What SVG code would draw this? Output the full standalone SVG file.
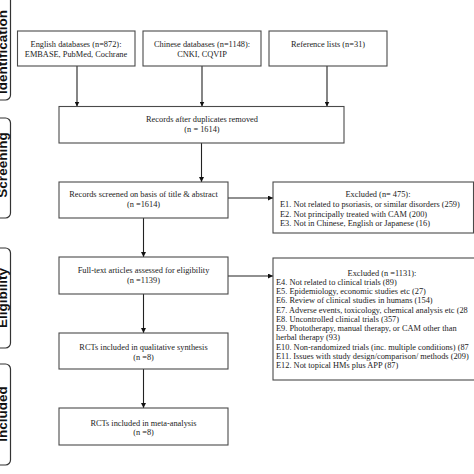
<svg xmlns="http://www.w3.org/2000/svg" width="474" height="474" viewBox="0 0 474 474">
<style>
.box{fill:#fff;stroke:#4a4a4a;stroke-width:1.1}
.phase{fill:#fff;stroke:#333;stroke-width:1.2}
.t{font-family:"Liberation Serif","Times New Roman",serif;font-size:8.35px;fill:#222}
.c{text-anchor:middle}
.ph{font-family:"Liberation Sans",Arial,sans-serif;font-size:13.5px;font-weight:bold;fill:#111;text-anchor:middle}
.ln{stroke:#222;stroke-width:1.1;fill:none}
</style>
<defs>
<marker id="ah" viewBox="0 0 10 10" refX="10" refY="5" markerWidth="5" markerHeight="5" markerUnits="userSpaceOnUse" orient="auto">
<path d="M0,0 L10,5 L0,10 z" fill="#111"/>
</marker>
</defs>
<rect width="474" height="474" fill="#fff"/>

<g id="phase-identification"><rect class="phase" x="-10" y="-6" width="20.5" height="106" rx="5"/><text class="ph" transform="translate(6.5,52) rotate(-90)">Identification</text></g>
<g id="phase-screening"><rect class="phase" x="-10" y="118" width="20.5" height="100" rx="5"/><text class="ph" transform="translate(6.5,165) rotate(-90)">Screening</text></g>
<g id="phase-eligibility"><rect class="phase" x="-10" y="248" width="20.5" height="100" rx="5"/><text class="ph" transform="translate(6.5,298) rotate(-90)">Eligibility</text></g>
<g id="phase-included"><rect class="phase" x="-10" y="364" width="20.5" height="101" rx="5"/><text class="ph" transform="translate(6.5,414) rotate(-90)">Included</text></g>

<g id="connectors">
<line class="ln" x1="77" y1="66" x2="77" y2="106.5" marker-end="url(#ah)"/>
<line class="ln" x1="202" y1="66" x2="202" y2="106.5" marker-end="url(#ah)"/>
<line class="ln" x1="327" y1="66" x2="327" y2="106.5" marker-end="url(#ah)"/>
<line class="ln" x1="201.5" y1="143" x2="201.5" y2="182" marker-end="url(#ah)"/>
<line class="ln" x1="228" y1="198" x2="273" y2="198" marker-end="url(#ah)"/>
<line class="ln" x1="143.5" y1="218" x2="143.5" y2="257" marker-end="url(#ah)"/>
<line class="ln" x1="228" y1="276" x2="273" y2="276" marker-end="url(#ah)"/>
<line class="ln" x1="143.5" y1="294" x2="143.5" y2="333" marker-end="url(#ah)"/>
<line class="ln" x1="143.5" y1="369" x2="143.5" y2="408" marker-end="url(#ah)"/>
</g>

<g id="english"><rect class="box" x="17.5" y="31" width="117.5" height="35"/>
<text class="t c" x="76" y="47">English databases (n=872):</text>
<text class="t c" x="76" y="56.5">EMBASE, PubMed, Cochrane</text></g>

<g id="chinese"><rect class="box" x="143" y="31" width="118" height="35"/>
<text class="t c" x="202" y="47">Chinese databases (n=1148):</text>
<text class="t c" x="202" y="56.5">CNKI, CQVIP</text></g>

<g id="reference"><rect class="box" x="269" y="31" width="118" height="35"/>
<text class="t c" x="328" y="47">Reference lists (n=31)</text></g>

<g id="records"><rect class="box" x="59" y="106.5" width="285" height="36.5"/>
<text class="t c" x="202" y="122">Records after duplicates removed</text>
<text class="t c" x="202" y="132">(n = 1614)</text></g>

<g id="screened"><rect class="box" x="59" y="182" width="169" height="36"/>
<text class="t c" x="143.5" y="197">Records screened on basis of title &amp; abstract</text>
<text class="t c" x="143.5" y="207">(n =1614)</text></g>

<g id="excluded1"><rect class="box" x="273" y="182" width="200.5" height="51"/>
<text class="t c" x="378" y="197">Excluded (n= 475):</text>
<text class="t" x="280" y="207">E1. Not related to psoriasis, or similar disorders (259)</text>
<text class="t" x="280" y="216.5">E2. Not principally treated with CAM (200)</text>
<text class="t" x="280" y="226">E3. Not in Chinese, English or Japanese (16)</text></g>

<g id="fulltext"><rect class="box" x="59" y="257" width="169" height="37"/>
<text class="t c" x="143.5" y="273">Full-text articles assessed for eligibility</text>
<text class="t c" x="143.5" y="283">(n =1139)</text></g>

<g id="excluded2"><rect class="box" x="273" y="258" width="210" height="122"/>
<text class="t c" x="382" y="276">Excluded (n =1131):</text>
<text class="t" x="276" y="284.7">E4. Not related to clinical trials (89)</text>
<text class="t" x="276" y="294">E5. Epidemiology, economic studies etc (27)</text>
<text class="t" x="276" y="303.2">E6. Review of clinical studies in humans (154)</text>
<text class="t" x="276" y="312.5">E7. Adverse events, toxicology, chemical analysis etc (28</text>
<text class="t" x="276" y="321.7">E8. Uncontrolled clinical trials (357)</text>
<text class="t" x="276" y="331">E9. Phototherapy, manual therapy, or CAM other than</text>
<text class="t" x="276" y="340.2">herbal therapy (93)</text>
<text class="t" x="276" y="349.5">E10. Non-randomized trials (inc. multiple conditions) (87</text>
<text class="t" x="276" y="358.7">E11. Issues with study design/comparison/ methods (209)</text>
<text class="t" x="276" y="368">E12. Not topical HMs plus APP (87)</text></g>

<g id="qualitative"><rect class="box" x="59" y="333" width="169" height="36"/>
<text class="t c" x="143.5" y="350">RCTs included in qualitative synthesis</text>
<text class="t c" x="143.5" y="360">(n =8)</text></g>

<g id="meta"><rect class="box" x="59" y="408" width="169" height="37"/>
<text class="t c" x="143.5" y="426">RCTs included in meta-analysis</text>
<text class="t c" x="143.5" y="435">(n =8)</text></g>
</svg>
